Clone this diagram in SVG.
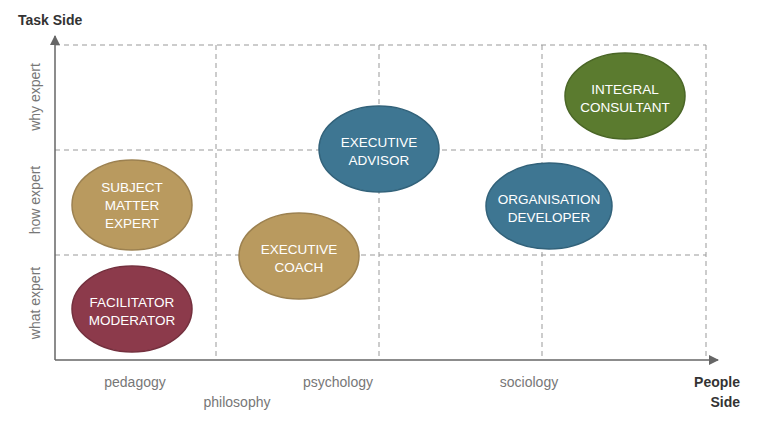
<svg xmlns="http://www.w3.org/2000/svg" width="758" height="426" viewBox="0 0 758 426">
<style>
.grid{stroke:#999;stroke-width:1;stroke-dasharray:5,4;fill:none}
.axis{stroke:#666;stroke-width:1.5;fill:none}
.lbl{font-family:"Liberation Sans",Arial,sans-serif;font-size:14px;fill:#777}
.bold{font-family:"Liberation Sans",Arial,sans-serif;font-size:14px;fill:#333;font-weight:bold}
.nt{font-family:"Liberation Sans",Arial,sans-serif;font-size:13.5px;fill:#fff;text-anchor:middle}
.el{stroke-width:1.5}
</style>
<defs><marker id="ar" markerWidth="10" markerHeight="10" refX="9" refY="5" orient="auto" markerUnits="userSpaceOnUse"><path d="M0,0 L10,5 L0,10 z" fill="#666"/></marker></defs>
<g id="connectors">
<path class="grid" d="M55,45 H706 M55,150 H706 M55,255 H706 M216,45 V360 M379,45 V360 M542,45 V360 M706,45 V360"/>
<line class="axis" x1="55" y1="360" x2="55" y2="36" marker-end="url(#ar)"/>
<line class="axis" x1="55" y1="360" x2="718" y2="360" marker-end="url(#ar)"/>
</g>
<text class="bold" x="18" y="25">Task Side</text>
<text class="lbl" transform="translate(40,97) rotate(-90)" text-anchor="middle">why expert</text>
<text class="lbl" transform="translate(40,200) rotate(-90)" text-anchor="middle">how expert</text>
<text class="lbl" transform="translate(40,303) rotate(-90)" text-anchor="middle">what  expert</text>
<text class="lbl" x="135" y="387" text-anchor="middle">pedagogy</text>
<text class="lbl" x="237" y="407" text-anchor="middle">philosophy</text>
<text class="lbl" x="338" y="387" text-anchor="middle">psychology</text>
<text class="lbl" x="529" y="387" text-anchor="middle">sociology</text>
<text class="bold" x="740" y="387" text-anchor="end">People</text>
<text class="bold" x="740" y="407" text-anchor="end">Side</text>
<g id="integral"><ellipse class="el" cx="625" cy="96" rx="60" ry="43" fill="#5b7b2f" stroke="#4a6626"/><text class="nt" x="625" y="94">INTEGRAL</text><text class="nt" x="625" y="112">CONSULTANT</text></g>
<g id="advisor"><ellipse class="el" cx="379" cy="149" rx="60" ry="43" fill="#3e7692" stroke="#32627a"/><text class="nt" x="379" y="147">EXECUTIVE</text><text class="nt" x="379" y="165">ADVISOR</text></g>
<g id="orgdev"><ellipse class="el" cx="549" cy="206" rx="63" ry="43" fill="#3e7692" stroke="#32627a"/><text class="nt" x="549" y="204">ORGANISATION</text><text class="nt" x="549" y="222">DEVELOPER</text></g>
<g id="sme"><ellipse class="el" cx="132" cy="205" rx="60" ry="45" fill="#b99a5f" stroke="#9c8150"/><text class="nt" x="132" y="192">SUBJECT</text><text class="nt" x="132" y="210">MATTER</text><text class="nt" x="132" y="228">EXPERT</text></g>
<g id="coach"><ellipse class="el" cx="299" cy="256" rx="60" ry="43" fill="#b99a5f" stroke="#9c8150"/><text class="nt" x="299" y="254">EXECUTIVE</text><text class="nt" x="299" y="272">COACH</text></g>
<g id="facilitator"><ellipse class="el" cx="132" cy="309" rx="60" ry="43" fill="#8c3a4b" stroke="#74303e"/><text class="nt" x="132" y="307">FACILITATOR</text><text class="nt" x="132" y="325">MODERATOR</text></g>
</svg>
